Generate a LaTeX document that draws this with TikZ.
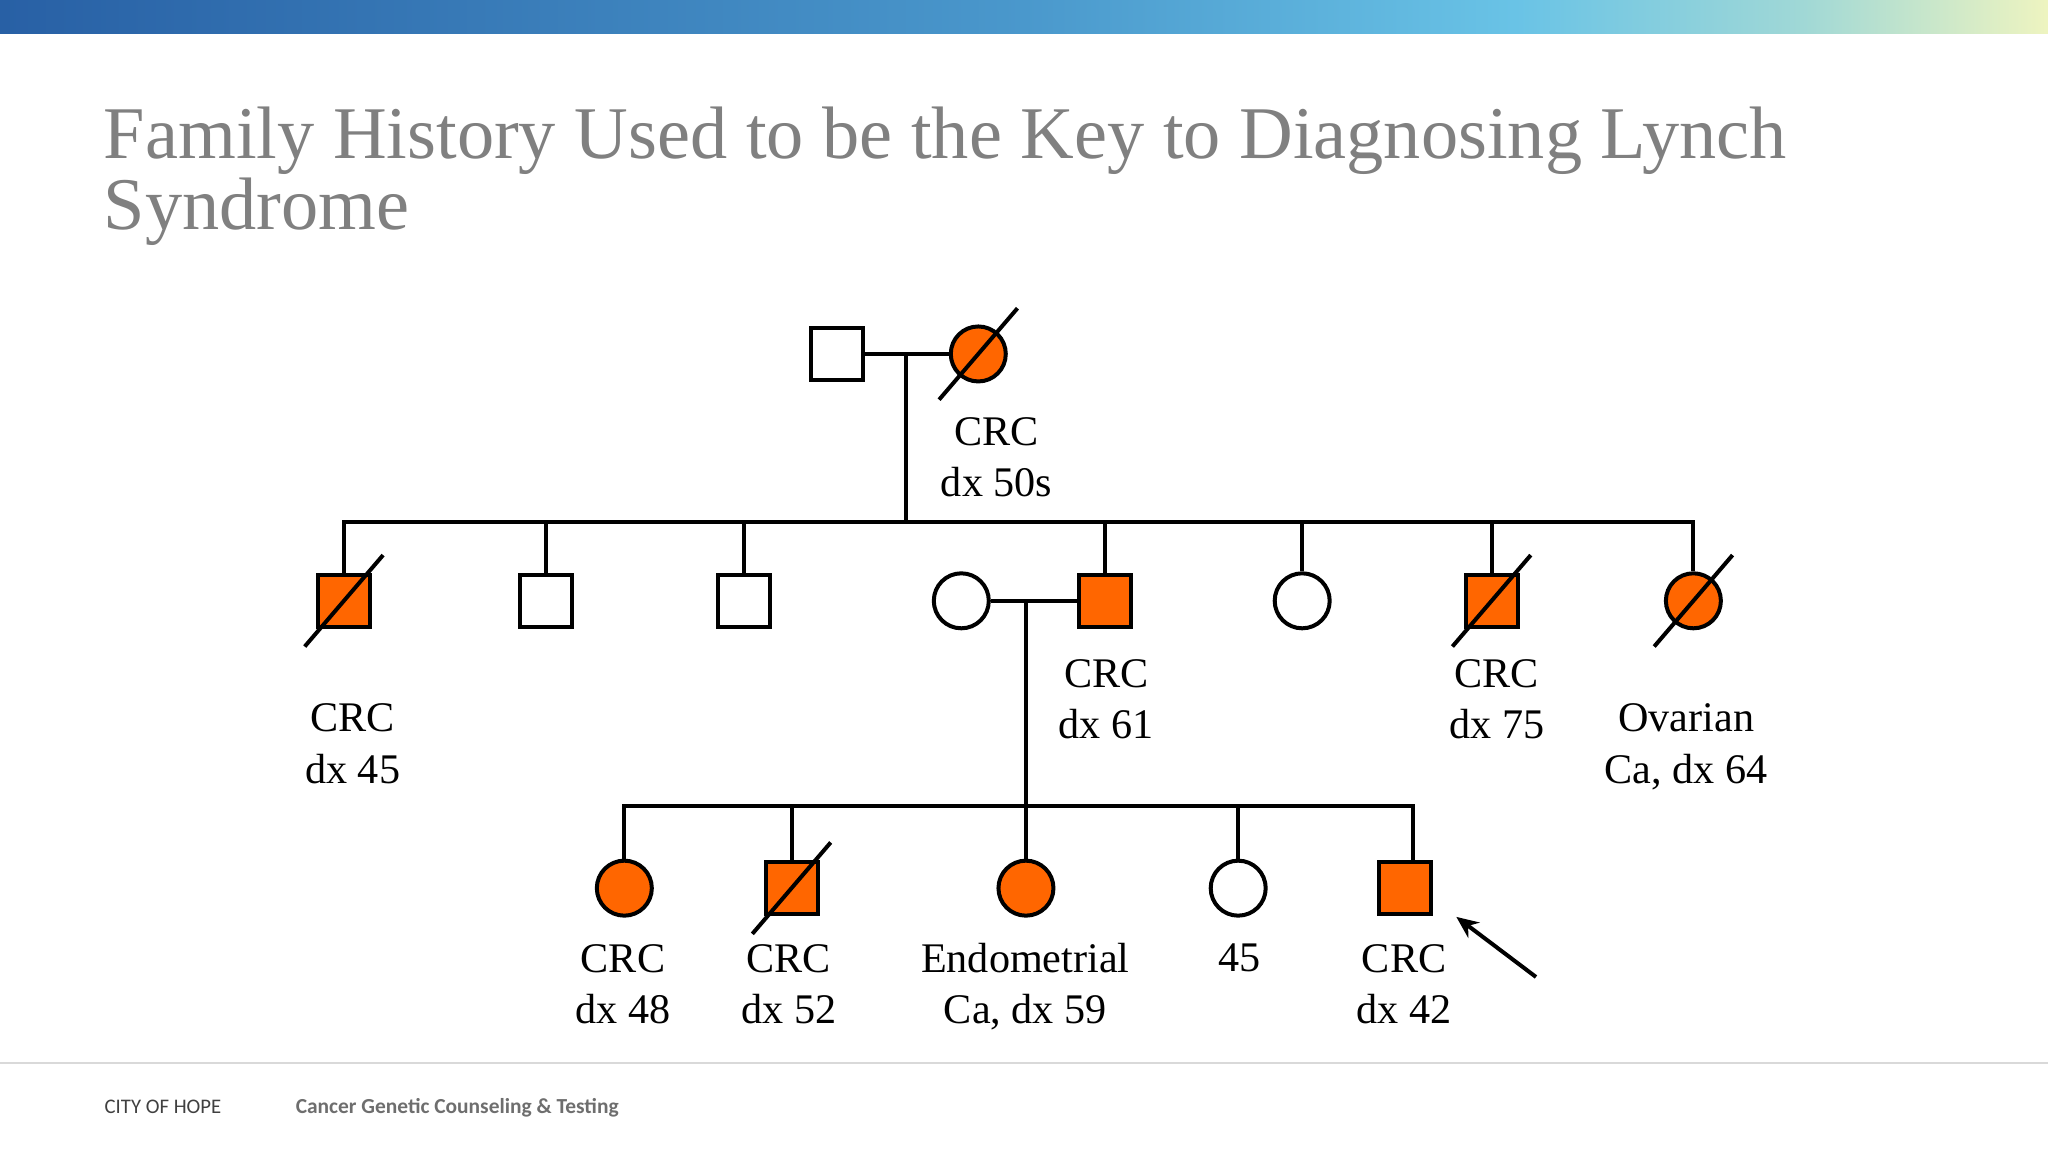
\documentclass[tikz,border=0pt]{standalone}
\usepackage{fontspec}
\setmainfont{Liberation Serif}
\newfontfamily\footfont{Carlito}
\usetikzlibrary{calc,arrows.meta}

\definecolor{lynchorange}{HTML}{FF6600}
\definecolor{titlegray}{HTML}{808080}
\definecolor{footgray}{HTML}{6E6E6E}
\definecolor{citygray}{HTML}{404040}
\definecolor{rulegray}{HTML}{D9D9D9}
\definecolor{barA}{HTML}{2860A5}
\definecolor{barB}{HTML}{4A98CC}
\definecolor{barC}{HTML}{69C3E6}
\definecolor{barD}{HTML}{A0D8D6}
\definecolor{barE}{HTML}{EEF4C0}
\pgfdeclarehorizontalshading{topbar}{100bp}{color(0bp)=(barA); color(25bp)=(barA); color(50bp)=(barB); color(62bp)=(barC); color(69bp)=(barD); color(75bp)=(barE); color(100bp)=(barE)}

\tikzset{
  male/.style={draw, line width=0.04cm, minimum size=0.52cm, inner sep=0pt, fill=white},
  female/.style={male, circle, minimum size=0.55cm},
  affected/.style={fill=lynchorange},
  slash/.style={line width=0.04cm},
  rel/.style={line width=0.04cm},
  lbl/.style={font=\fontsize{12}{14.6}\selectfont, align=center, inner sep=0pt, anchor=base},
  foot/.style={font=\footfont\fontsize{5.9}{7}\selectfont, inner sep=0pt, anchor=base west},
}

% deceased: slash through the symbol
\newcommand{\deadmark}[1]{\draw[slash] ($(#1)+(-30,35)$) -- ($(#1)+(30,-35)$);}

\begin{document}
\begin{tikzpicture}[x=0.013061cm, y=-0.013061cm]
    \useasboundingbox (0,0) rectangle (1568,882);

    % banner and title (base = last line)
    \shade[shading=topbar] (0,0) rectangle (1568,25.3);
    \node[font=\fontsize{21.15}{18.5}\selectfont, text=titlegray, align=left, inner sep=0pt, anchor=base west] (title) at (79,175.5)
        {Family History Used to be the Key to Diagnosing Lynch\\Syndrome};

    % generation I
    \node[male] (gf) at (641,271) {};
    \node[female, affected] (gm) at (749,271) {};
    \deadmark{gm}
    \node[lbl] (gmlbl) at (763,380) {CRC\\dx 50s};

    \coordinate (mI) at (693.7,271);
    \coordinate (sibIIL) at (263.3,399.5);
    \coordinate (sibIIR) at (1296.5,399.5);

    % generation II
    \node[male, affected] (c1) at (263.3,460) {};
    \node[male] (c2) at (418.4,460) {};
    \node[male] (c3) at (569.5,460) {};
    \node[female] (sp) at (736,460) {};
    \node[male, affected] (c4) at (846,460) {};
    \node[female] (c5) at (997,460) {};
    \node[male, affected] (c6) at (1142,460) {};
    \node[female, affected] (c7) at (1296.5,460) {};
    \deadmark{c1}
    \deadmark{c6}
    \deadmark{c7}

    \node[lbl] (c1lbl) at (270,599.5) {CRC\\dx 45};
    \node[lbl] (c4lbl) at (847,565.5) {CRC\\dx 61};
    \node[lbl] (c6lbl) at (1146,565.5) {CRC\\dx 75};
    \node[lbl] (c7lbl) at (1291,599.5) {Ovarian\\Ca, dx 64};

    \coordinate (mII) at (785.5,460);
    \coordinate (sibIIIL) at (478,617);
    \coordinate (sibIIIR) at (1081.6,617);

    % generation III
    \node[female, affected] (g1) at (478,680) {};
    \node[male, affected] (g2) at (606,680) {};
    \node[female, affected] (g3) at (785.5,680) {};
    \node[female] (g4) at (948,680) {};
    \node[male, affected] (g5) at (1075.5,680) {};
    \deadmark{g2}

    \node[lbl] (g1lbl) at (477,783.5) {CRC\\dx 48};
    \node[lbl] (g2lbl) at (604,783.5) {CRC\\dx 52};
    \node[lbl] (g3lbl) at (785,783.5) {Endometrial\\Ca, dx 59};
    \node[lbl] (g4lbl) at (949,744) {45};
    \node[lbl] (g5lbl) at (1075,783.5) {CRC\\dx 42};

    % lines of descent
    \draw[rel] (gf) -- (gm);
    \draw[rel] (mI) -- (mI |- sibIIL);
    \draw[rel] (c1.north) -- (c1 |- sibIIL) -- (sibIIR) -- (c7.north);
    \foreach \n in {c2,c3,c4,c5,c6}
        \draw[rel] (\n.north) -- (\n |- sibIIL);
    \draw[rel] (sp) -- (c4);
    \draw[rel] (mII) -- (mII |- sibIIIL);
    \draw[rel] (g1.north) -- (g1 |- sibIIIL) -- (sibIIIR) -- (g5.north -| sibIIIR);
    \foreach \n in {g2,g3,g4}
        \draw[rel] (\n.north) -- (\n |- sibIIIL);

    % proband
    \coordinate (arrtail) at (1176,748);
    \coordinate (arrtip) at (1115,702);
    \draw[rel, -{Stealth[length=0.22cm, width=0.19cm]}] (arrtail) -- (arrtip);

    % footer
    \draw[rulegray, line width=0.02cm] (0,813.9) -- (1568,813.9);
    \node[foot, text=citygray] (city) at (79.6,852.3) {CITY OF HOPE};
    \node[foot, text=footgray, font=\footfont\bfseries\fontsize{6.1}{7}\selectfont] (dept) at (225.9,852.3) {Cancer Genetic Counseling \& Testing};
\end{tikzpicture}
\end{document}
